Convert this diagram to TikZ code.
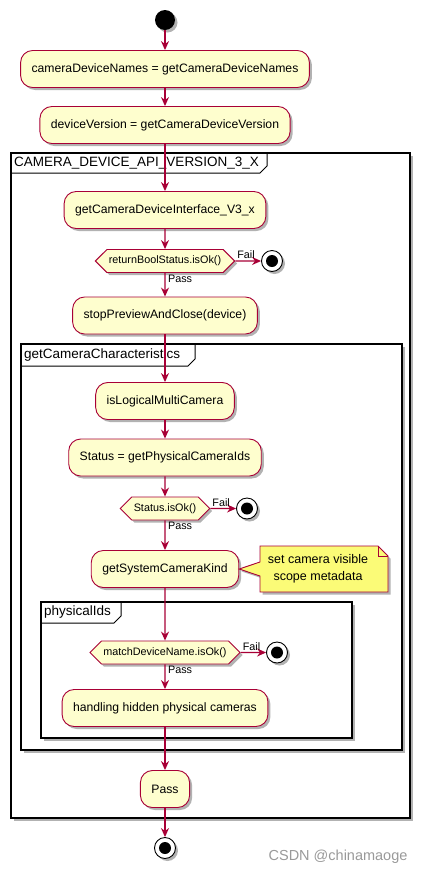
\documentclass[tikz,border=0pt]{standalone}
\usepackage{fontspec}
\setmainfont{Liberation Sans}
\usetikzlibrary{arrows.meta,shapes.symbols,shadows,positioning}
\definecolor{umlred}{HTML}{A80036}
\definecolor{umlfill}{HTML}{FEFECE}
\definecolor{notefill}{HTML}{FBFB77}

\begin{document}
\begin{tikzpicture}[%
    ,x=1pt,y=-1pt
    ,>={Stealth[length=9pt,width=8pt,inset=3pt]}
    ,umlshadow/.style={drop shadow={shadow xshift=2.5pt,shadow yshift=-2.5pt,opacity=0.3,fill=black}}
    ,action/.style = {%
        ,draw=umlred, fill=umlfill, line width=0.9pt
        ,rounded corners=12pt
        ,minimum height=37pt, inner xsep=11pt
        ,font=\fontsize{12.2}{14}\selectfont
        ,umlshadow
        }
    ,check/.style = {%
        ,draw=umlred, fill=umlfill, line width=0.9pt
        ,signal, signal to=east and west
        ,minimum height=23pt, inner xsep=2pt, inner ysep=0pt
        ,font=\fontsize{10.8}{12}\selectfont
        ,umlshadow
        }
    ,startnode/.style={circle, fill=black, minimum size=20pt, inner sep=0pt, umlshadow}
    ,stopnode/.style={%
        ,circle, draw=black, fill=white, line width=0.9pt
        ,minimum size=21pt, inner sep=0pt, umlshadow
        ,path picture={\fill[black] (path picture bounding box.center) circle (6pt);}
        }
    ,flow/.style={->, draw=umlred, line width=1.2pt}
    ,branch/.style={font=\fontsize{10.8}{12}\selectfont, inner sep=1.5pt}
    ,frame/.style={draw=black, line width=1.4pt, fill=white, umlshadow}
    ,tab/.style={draw=black, line width=1pt}
    ,framelabel/.style={font=\fontsize{13.5}{15}\selectfont, inner sep=0pt}
    ]
\useasboundingbox (0,0) rectangle (426,876);

% frames (outer first)
\foreach \fl/\ft/\fr/\fb/\tr/\tb/\flabel in
{
    11/153/410/818/267/173/CAMERA\_DEVICE\_API\_VERSION\_3\_X,
    21/344/402/750/195/366/getCameraCharacteristics,
    41/602/352/738/121/623/physicalIds
}
{
    \draw[frame] (\fl,\ft) rectangle (\fr,\fb);
    \draw[tab] (\fl,\tb) -- (\tr-7,\tb) -- (\tr,\tb-7) -- (\tr,\ft);
    \node[framelabel, anchor=west] at (\fl+3,{(\ft+\tb)/2}) {\flabel};
}

% main column
\node (start) [startnode] at (165,20) {};
\foreach \name/\y/\txt in
{
    names/69/cameraDeviceNames = getCameraDeviceNames,
    version/125/deviceVersion = getCameraDeviceVersion,
    iface/210/getCameraDeviceInterface\_V3\_x,
    close/315.5/stopPreviewAndClose(device),
    logical/401/isLogicalMultiCamera,
    status/457.5/Status = getPhysicalCameraIds,
    kind/569/getSystemCameraKind,
    hidden/708/handling hidden physical cameras,
    pass/789/Pass
}
    \node (\name) [action] at (165,\y) {\txt};

\node (retok) [check] at (165,261) {returnBoolStatus.isOk()};
\node (statok) [check] at (165,508.5) {Status.isOk()};
\node (matchok) [check] at (165,652.5) {matchDeviceName.isOk()};

\node (stopa) [stopnode] at (272,261) {};
\node (stopb) [stopnode] at (247,508.5) {};
\node (stopc) [stopnode] at (277,652.5) {};
\node (stop) [stopnode] at (165,848) {};

% connectors
\foreach \a/\b in {start/names, names/version, version/iface, iface/retok,
    close/logical, logical/status, status/statok, kind/matchok, hidden/pass, pass/stop}
    \draw[flow] (\a) -- (\b);

\foreach \c/\a/\b in {retok/stopa/close, statok/stopb/kind, matchok/stopc/hidden}
{
    \draw[flow] (\c) -- (\a) node[branch, at start, anchor=south west] {Fail};
    \draw[flow] (\c) -- (\b) node[branch, at start, anchor=north west, xshift=1pt] {Pass};
}

% note
\draw[draw=umlred, fill=notefill, line width=0.9pt, umlshadow]
    (kind.east) -- (260,562) -- (260,546) -- (378,546) -- (388,556)
    -- (388,592) -- (260,592) -- (260,576) -- cycle;
\draw[draw=umlred, line width=0.9pt] (378,546) -- (378,556) -- (388,556);
\node (kindnote) [align=center, font=\fontsize{12.5}{17}\selectfont] at (318,569)
    {set camera visible\\scope metadata};

\node (mark) [anchor=east, text=black!40, font=\fontsize{14.5}{16}\selectfont] at (411,857)
    {CSDN @chinamaoge};
\end{tikzpicture}
\end{document}
